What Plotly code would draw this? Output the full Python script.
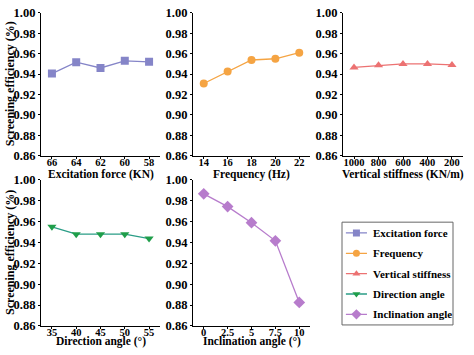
import plotly.graph_objects as go

force_cats = ["66", "64", "62", "60", "58"]
force_vals = [0.9405, 0.9517, 0.946, 0.953, 0.952]
freq_cats = ["14", "16", "18", "20", "22"]
freq_vals = [0.9308, 0.9425, 0.9538, 0.955, 0.961]
stiff_cats = ["1000", "800", "600", "400", "200"]
stiff_vals = [0.9465, 0.9486, 0.950, 0.950, 0.949]
dir_cats = ["35", "40", "45", "50", "55"]
dir_vals = [0.955, 0.948, 0.948, 0.948, 0.9437]
incl_cats = ["0", "2.5", "5", "7.5", "10"]
incl_vals = [0.9866, 0.9744, 0.959, 0.9416, 0.8825]

y_ticks = [0.86, 0.88, 0.90, 0.92, 0.94, 0.96, 0.98, 1.00]
y_title = "Screening efficiency (%)"

series = [
    ("Excitation force", force_cats, force_vals, "#8585c8", "#8585c8", "square", "Excitation force (KN)"),
    ("Frequency", freq_cats, freq_vals, "#f5a443", "#f5a443", "circle", "Frequency (Hz)"),
    ("Vertical stiffness", stiff_cats, stiff_vals, "#ec7272", "#ec7272", "triangle-up", "Vertical stiffness (KN/m)"),
    ("Direction angle", dir_cats, dir_vals, "#2a9d86", "#1f9e4a", "triangle-down", "Direction angle (°)"),
    ("Inclination angle", incl_cats, incl_vals, "#b77ccc", "#b77ccc", "diamond", "Inclination angle (°)"),
]

W, H = 474, 355
def px_x(a, b):
    return [a / W, b / W]
def px_y(top, bot):
    return [1 - bot / H, 1 - top / H]

xdoms = [px_x(41, 160), px_x(193, 310), px_x(343, 463), px_x(41, 160), px_x(193, 310)]
ydoms = [px_y(6, 155)] * 3 + [px_y(180, 332)] * 2
xtitle_y = [174, 174, 174, 348.5, 348.5]

FAM = "Liberation Serif, Times New Roman, serif"
fig = go.Figure()
annotations = []
shapes = []
layout = dict(
    width=W, height=H, margin=dict(l=0, r=0, t=0, b=0),
    paper_bgcolor="white", plot_bgcolor="white",
    font=dict(family=FAM, size=12, color="black"),
    showlegend=False,
)
for i, (name, cats, vals, lc, mc, sym, xt) in enumerate(series):
    n = i + 1
    xa = "x" if n == 1 else f"x{n}"
    ya = "y" if n == 1 else f"y{n}"
    msize = 8 if sym != "diamond" else 9
    fig.add_trace(go.Scatter(
        x=cats, y=vals, name=name, mode="lines+markers",
        line=dict(color=lc, width=1.3),
        marker=dict(color=mc, symbol=sym, size=msize),
        xaxis=xa, yaxis=ya,
    ))
    key = "" if n == 1 else str(n)
    layout["xaxis" + key] = dict(
        domain=xdoms[i], anchor=ya, type="category", range=[-0.45, 4.45],
        showline=True, linecolor="black", linewidth=1.2, ticks="outside",
        ticklen=2, tickcolor="black", showgrid=False, zeroline=False,
        ticklabelstandoff=-6,
        tickfont=dict(family=FAM, size=10.5, color="black", weight="bold"),
    )
    layout["yaxis" + key] = dict(
        domain=ydoms[i], anchor=xa, range=[0.86, 1.00], tickvals=y_ticks,
        tickformat=".2f", showline=True, linecolor="black", linewidth=1.2,
        ticks="outside", ticklen=2, tickcolor="black", showgrid=False,
        zeroline=False,
        tickfont=dict(family=FAM, size=12.5, color="black", weight="bold"),
    )
    annotations.append(dict(
        text=f"<b>{xt}</b>", xref="paper", yref="paper",
        x=sum(xdoms[i]) / 2, y=1 - xtitle_y[i] / H, showarrow=False,
        xanchor="center", yanchor="middle",
        font=dict(family=FAM, size=11.5, color="black"),
    ))
    if n in (1, 4):
        annotations.append(dict(
            text=f"<b>{y_title}</b>", xref="paper", yref="paper",
            x=10 / W, y=sum(ydoms[i]) / 2, showarrow=False, textangle=-90,
            xanchor="center", yanchor="middle",
            font=dict(family=FAM, size=12, color="black"),
        ))

# manual legend panel
LX0, LX1, LY0, LY1 = 342, 453, 224, 331
layout["xaxis6"] = dict(domain=px_x(LX0, LX1), anchor="y6", range=[0, 1],
                        visible=False, fixedrange=True)
layout["yaxis6"] = dict(domain=px_y(LY0, LY1), anchor="x6", range=[0, 1],
                        visible=False, fixedrange=True)
shapes.append(dict(type="rect", xref="paper", yref="paper",
                   x0=LX0 / W, x1=LX1 / W, y0=1 - LY1 / H, y1=1 - LY0 / H,
                   line=dict(color="#666666", width=1), fillcolor="white",
                   layer="below"))
for i, (name, cats, vals, lc, mc, sym, xt) in enumerate(series):
    yy = 0.895 - i * 0.198
    msize = 7 if sym != "diamond" else 8
    fig.add_trace(go.Scatter(
        x=[0.035, 0.225], y=[yy, yy], mode="lines", line=dict(color=lc, width=1.3),
        xaxis="x6", yaxis="y6", hoverinfo="skip",
    ))
    fig.add_trace(go.Scatter(
        x=[0.13], y=[yy], mode="markers",
        marker=dict(color=mc, symbol=sym, size=msize),
        xaxis="x6", yaxis="y6", hoverinfo="skip",
    ))
    annotations.append(dict(
        text=f"<b>{name}</b>", xref="x6", yref="y6", x=0.26, y=yy,
        showarrow=False, xanchor="left", yanchor="middle",
        font=dict(family=FAM, size=11, color="black"),
    ))

layout["annotations"] = annotations
layout["shapes"] = shapes
fig.update_layout(**layout)
fig.write_html(
    "out.html",
    config={"displayModeBar": False},
    post_script="document.body.style.margin='0';document.body.style.padding='0';",
)
